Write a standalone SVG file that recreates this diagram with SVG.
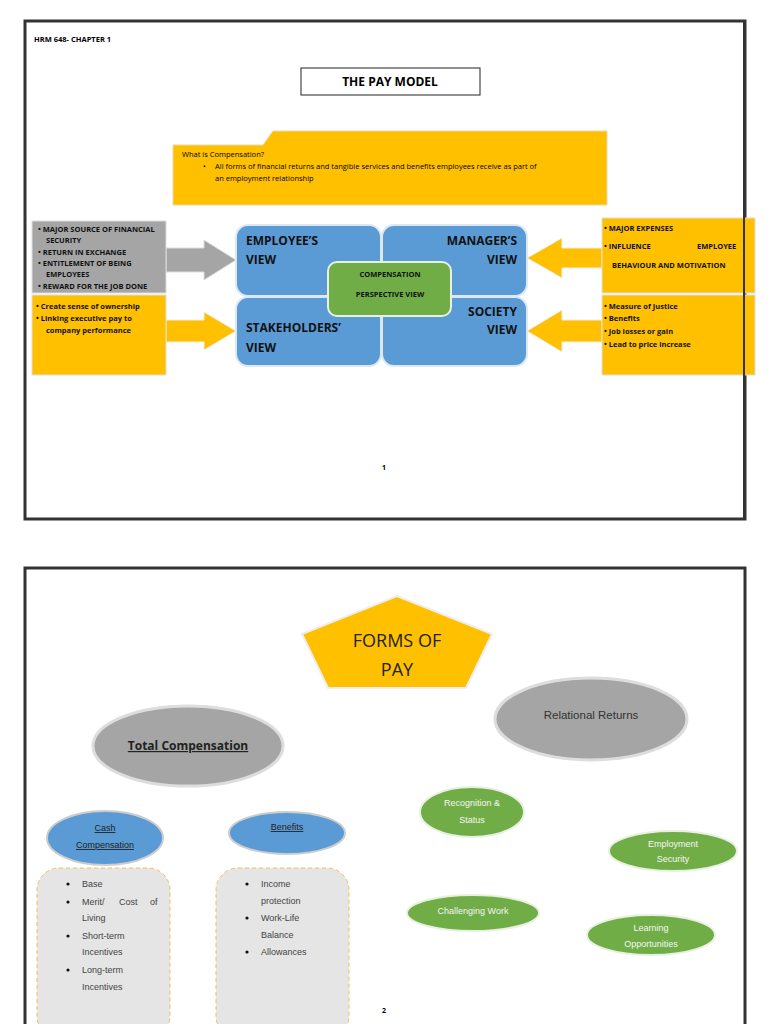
<svg xmlns="http://www.w3.org/2000/svg" width="768" height="1024" viewBox="0 0 768 1024">
<style>
.t{font-family:"Liberation Sans",Arial,sans-serif}
.c{font-family:"Open Sans","Liberation Sans",sans-serif}
.page{fill:#fff;stroke:#333;stroke-width:3}
.blue{fill:#5b9bd5;stroke:#dde8f3;stroke-width:2}
.bt{font-family:"Open Sans","Liberation Sans",sans-serif;font-weight:bold;font-size:12px;fill:#111}
.y{fill:#ffc000}
.sm{font-family:"Open Sans","Liberation Sans",sans-serif;font-weight:bold;font-size:7.5px;fill:#111}
.gr{fill:#70ad47;stroke:#e8f0e0;stroke-width:2}
.gt{font-family:"Liberation Sans",Arial,sans-serif;font-size:9px;fill:#f5f5f5}
</style>
<rect width="768" height="1024" fill="#fff"/>
<g id="page1">
<rect class="page" x="25" y="21" width="720" height="498"/>
<text class="c" x="34" y="42" font-size="7.5" font-weight="bold">HRM 648- CHAPTER 1</text>
<rect x="301" y="68" width="179" height="27" fill="#fff" stroke="#222"/>
<text class="c" x="390" y="86" font-size="12" font-weight="bold" text-anchor="middle">THE PAY MODEL</text>
</g>
<g id="callout">
<polygon class="y" points="173,145 263,145 273,131 607,131 607,205 173,205" stroke="#e8d9a8"/>
<text class="c" x="182" y="157" font-size="7.5">What is Compensation?</text>
<text class="c" x="203" y="169" font-size="7.5">•</text>
<text class="c" x="215" y="169" font-size="7.5">All forms of financial returns and tangible services and benefits employees receive as part of</text>
<text class="c" x="215" y="181" font-size="7.5">an employment relationship</text>
</g>
<g id="connectors">
<polygon fill="#a5a5a5" stroke="#ddd" points="166,248 204,248 204,240 236,260 204,280 204,272 166,272"/>
<polygon class="y" stroke="#eee" points="166,320 204,320 204,312 236,331 204,350 204,342 166,342"/>
<polygon class="y" stroke="#eee" points="602,248 562,248 562,238 527,258 562,278 562,268 602,268"/>
<polygon class="y" stroke="#eee" points="602,320 562,320 562,310 527,331 562,352 562,342 602,342"/>
</g>
<g id="leftGray">
<rect x="32" y="221" width="134" height="72" fill="#a5a5a5" stroke="#ddd"/>
<text class="sm"><tspan x="38" y="232">• MAJOR SOURCE OF FINANCIAL</tspan><tspan x="46" y="243">SECURITY</tspan><tspan x="38" y="255">• RETURN IN EXCHANGE</tspan><tspan x="38" y="266">• ENTITLEMENT    OF    BEING</tspan><tspan x="46" y="277">EMPLOYEES</tspan><tspan x="38" y="289">• REWARD FOR THE JOB DONE</tspan></text>
</g>
<g id="leftYellow">
<rect class="y" x="32" y="295" width="134" height="80" stroke="#ddd"/>
<text class="sm"><tspan x="36" y="309">• Create sense of ownership</tspan><tspan x="36" y="321">• Linking   executive   pay   to</tspan><tspan x="46" y="333">company performance</tspan></text>
</g>
<g id="rightTop">
<rect class="y" x="602" y="218" width="153" height="75" stroke="#ddd"/>
<text class="sm"><tspan x="604" y="231">• MAJOR EXPENSES</tspan><tspan x="604" y="249">• INFLUENCE</tspan><tspan x="697" y="249">EMPLOYEE</tspan><tspan x="612" y="268">BEHAVIOUR AND MOTIVATION</tspan></text>
</g>
<g id="rightBottom">
<rect class="y" x="602" y="295" width="153" height="80" stroke="#ddd"/>
<text class="sm"><tspan x="604" y="309">• Measure of Justice</tspan><tspan x="604" y="321">• Benefits</tspan><tspan x="604" y="334">• Job losses or gain</tspan><tspan x="604" y="347">• Lead to price increase</tspan></text>
</g>
<rect x="743" y="21" width="2" height="498" fill="#333"/>
<g id="employee"><rect class="blue" x="236" y="225" width="145" height="71" rx="12"/><text class="bt" x="246" y="245">EMPLOYEE’S</text><text class="bt" x="246" y="264">VIEW</text></g>
<g id="manager"><rect class="blue" x="382" y="225" width="145" height="71" rx="12"/><text class="bt" x="517" y="245" text-anchor="end">MANAGER’S</text><text class="bt" x="517" y="264" text-anchor="end">VIEW</text></g>
<g id="stakeholders"><rect class="blue" x="236" y="297" width="145" height="69" rx="12"/><text class="bt" x="246" y="332">STAKEHOLDERS’</text><text class="bt" x="246" y="352">VIEW</text></g>
<g id="society"><rect class="blue" x="382" y="297" width="145" height="69" rx="12"/><text class="bt" x="517" y="316" text-anchor="end">SOCIETY</text><text class="bt" x="517" y="334" text-anchor="end">VIEW</text></g>
<g id="center"><rect class="gr" x="328" y="262" width="123" height="54" rx="9"/><text class="sm" x="390" y="277" text-anchor="middle">COMPENSATION</text><text class="sm" x="390" y="297" text-anchor="middle">PERSPECTIVE VIEW</text></g>
<text class="c" x="384" y="470" font-size="7" font-weight="bold" text-anchor="middle">1</text>

<g id="page2"><rect class="page" x="25" y="568" width="720" height="470"/></g>
<g id="forms"><polygon points="397,596 492,634 466,688 328,688 302,634" fill="#ffc000" stroke="#eee" stroke-width="2"/><text class="c" x="397" y="647" font-size="18" text-anchor="middle" fill="#222">FORMS OF</text><text class="c" x="397" y="676" font-size="18" text-anchor="middle" fill="#222">PAY</text></g>
<g id="total"><ellipse cx="188" cy="746" rx="95" ry="40" fill="#a5a5a5" stroke="#ddd" stroke-width="3"/><text class="c" x="188" y="750" font-size="12" font-weight="bold" text-anchor="middle" fill="#222" text-decoration="underline">Total Compensation</text></g>
<g id="relational"><ellipse cx="591" cy="719" rx="96" ry="41" fill="#a5a5a5" stroke="#ddd" stroke-width="3"/><text class="t" x="591" y="719" font-size="11.5" text-anchor="middle" fill="#333">Relational Returns</text></g>
<g id="cash"><ellipse cx="105" cy="838" rx="58" ry="27" fill="#5b9bd5" stroke="#ccc" stroke-width="2"/><text class="t" x="105" y="831" font-size="9" text-anchor="middle" fill="#222" text-decoration="underline">Cash</text><text class="t" x="105" y="848" font-size="9" text-anchor="middle" fill="#222" text-decoration="underline">Compensation</text></g>
<g id="benefits"><ellipse cx="287" cy="833" rx="58" ry="21" fill="#5b9bd5" stroke="#ccc" stroke-width="2"/><text class="t" x="287" y="830" font-size="9" text-anchor="middle" fill="#222" text-decoration="underline">Benefits</text></g>
<g id="cashList"><rect x="37" y="868" width="133" height="170" rx="22" fill="#e5e5e5" stroke="#f4c04f" stroke-dasharray="4,3"/>
<text class="t" font-size="9" fill="#444"><tspan x="82" y="887">Base</tspan><tspan x="82" y="905">Merit/</tspan><tspan x="119" y="905">Cost</tspan><tspan x="150" y="905">of</tspan><tspan x="82" y="921">Living</tspan><tspan x="82" y="939">Short-term</tspan><tspan x="82" y="955">Incentives</tspan><tspan x="82" y="973">Long-term</tspan><tspan x="82" y="990">Incentives</tspan></text>
<g fill="#111"><circle cx="68" cy="884" r="1.6"/><circle cx="68" cy="902" r="1.6"/><circle cx="68" cy="936" r="1.6"/><circle cx="68" cy="970" r="1.6"/></g></g>
<g id="benList"><rect x="216" y="868" width="133" height="170" rx="22" fill="#e5e5e5" stroke="#f4c04f" stroke-dasharray="4,3"/>
<text class="t" font-size="9" fill="#444"><tspan x="261" y="887">Income</tspan><tspan x="261" y="904">protection</tspan><tspan x="261" y="921">Work-Life</tspan><tspan x="261" y="938">Balance</tspan><tspan x="261" y="955">Allowances</tspan></text>
<g fill="#111"><circle cx="247" cy="884" r="1.6"/><circle cx="247" cy="918" r="1.6"/><circle cx="247" cy="952" r="1.6"/></g></g>
<g id="recognition"><ellipse class="gr" cx="472" cy="812" rx="52" ry="25"/><text class="gt" x="472" y="806" text-anchor="middle">Recognition &amp;</text><text class="gt" x="472" y="823" text-anchor="middle">Status</text></g>
<g id="employment"><ellipse class="gr" cx="673" cy="851" rx="64" ry="20"/><text class="gt" x="673" y="847" text-anchor="middle">Employment</text><text class="gt" x="673" y="862" text-anchor="middle">Security</text></g>
<g id="challenging"><ellipse class="gr" cx="473" cy="913" rx="66" ry="18"/><text class="gt" x="473" y="914" text-anchor="middle">Challenging Work</text></g>
<g id="learning"><ellipse class="gr" cx="651" cy="935" rx="64" ry="20"/><text class="gt" x="651" y="931" text-anchor="middle">Learning</text><text class="gt" x="651" y="947" text-anchor="middle">Opportunities</text></g>
<text class="c" x="384" y="1013" font-size="7" font-weight="bold" text-anchor="middle">2</text>
</svg>
